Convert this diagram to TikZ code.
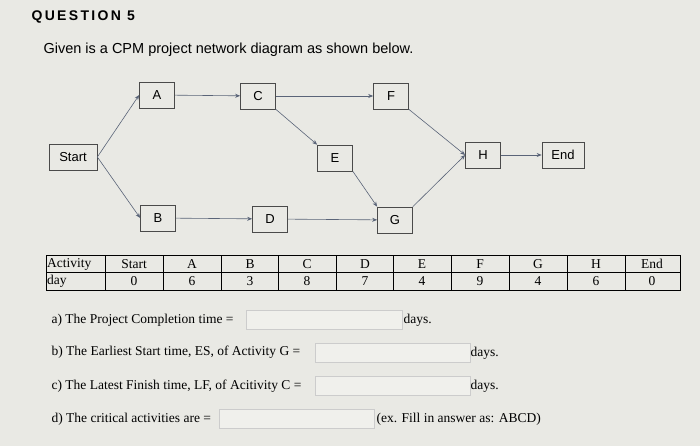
\documentclass[tikz,border=0pt]{standalone}
\usepackage{fontspec}
\setmainfont{Liberation Serif}
\setsansfont{Liberation Sans}
\usetikzlibrary{arrows.meta}
\definecolor{bg}{HTML}{E9E9E4}
\definecolor{ln}{HTML}{5A6478}
\definecolor{boxc}{HTML}{4A4A4A}
\definecolor{inp}{HTML}{F0F0EC}
\tikzset{
 act/.style={draw=boxc,fill=bg,line width=0.7pt,minimum width=35pt,minimum height=26pt,inner sep=1pt,font=\sffamily\fontsize{13}{15}\selectfont},
 con/.style={draw=ln,line width=0.6pt,-{Stealth[length=5pt,width=4pt]}},
 cell/.style={font=\fontsize{13.5}{14}\selectfont},
 q/.style={anchor=west,font=\fontsize{13.5}{15}\selectfont},
 ib/.style={draw=black!20,fill=inp,minimum height=19pt,inner sep=0pt}
}
\begin{document}
\begin{tikzpicture}[x=1pt,y=-1pt]
\fill[bg] (0,0) rectangle (700,446);
\useasboundingbox (0,0) rectangle (700,446);
\node[anchor=west,font=\sffamily\bfseries\fontsize{14}{16}\selectfont] (title) at (28,17) {Q\,U\,E\,S\,T\,I\,O\,N\, 5};
\node[anchor=west,font=\sffamily\fontsize{14.5}{17}\selectfont] (intro) at (40,50) {Given is a CPM project network diagram as shown below.};
\node[act,minimum width=48pt] (S) at (73,157) {Start};
\node[act] (A) at (157,95) {A};
\node[act] (C) at (258,96) {C};
\node[act] (F) at (391,96) {F};
\node[act] (E) at (335,158) {E};
\node[act] (H) at (483,155) {H};
\node[act,minimum width=42pt] (End) at (563,155) {End};
\node[act] (B) at (158,218) {B};
\node[act] (D) at (270,219) {D};
\node[act] (G) at (395,220) {G};
\draw[con] (S.east) -- (A.west);
\draw[con] (S.east) -- (B.west);
\draw[con] (A) -- (C);
\draw[con] (C) -- (F);
\draw[con] (C.south east) -- (E.north west);
\draw[con] (B) -- (D);
\draw[con] (D) -- (G);
\draw[con] (E.south east) -- (G.north west);
\draw[con] (F.south east) -- (H.west);
\draw[con] (G.north east) -- (H.west);
\draw[con] (H) -- (End);
% table
\draw[line width=0.9pt] (46,255) rectangle (680,290);
\draw[line width=0.9pt] (46,272) -- (680,272);
\foreach \x in {105,163,221,278,336,393,451,509,567,625}{\draw[line width=0.9pt] (\x,255) -- (\x,290);}
\node[cell,anchor=west,inner sep=1pt] (h0) at (46,264) {Activity};
\node[cell,anchor=west,inner sep=1pt] (d0) at (46,281) {day};
\foreach \a/\b/\n [count=\i] in {Start/0/134,A/6/192,B/3/250,C/8/307,D/7/365,E/4/422,F/9/480,G/4/538,H/6/596,End/0/652}{
 \node[cell] (h\i) at (\n,264) {\a};
 \node[cell] (d\i) at (\n,281) {\b};
}
% questions
\node[q] (qa) at (48,320) {a) The Project Completion time =};
\node[ib,minimum width=156pt] (ia) at (324,320) {};
\node[q] (da) at (400,320) {days.};
\node[q] (qb) at (48,352) {b) The Earliest Start time, ES, of Activity G =};
\node[ib,minimum width=155pt] (ib2) at (393,353) {};
\node[q] (db) at (467,353) {days.};
\node[q] (qc) at (48,386) {c) The Latest Finish time, LF, of Acitivity C =};
\node[ib,minimum width=155pt] (ic) at (393,386) {};
\node[q] (dc) at (467,386) {days.};
\node[q] (qd) at (48,419) {d) The critical activities are =};
\node[ib,minimum width=155pt] (id) at (297,419) {};
\node[q] (dd) at (373,419) {(ex. Fill in answer as: ABCD)};
\end{tikzpicture}
\end{document}
